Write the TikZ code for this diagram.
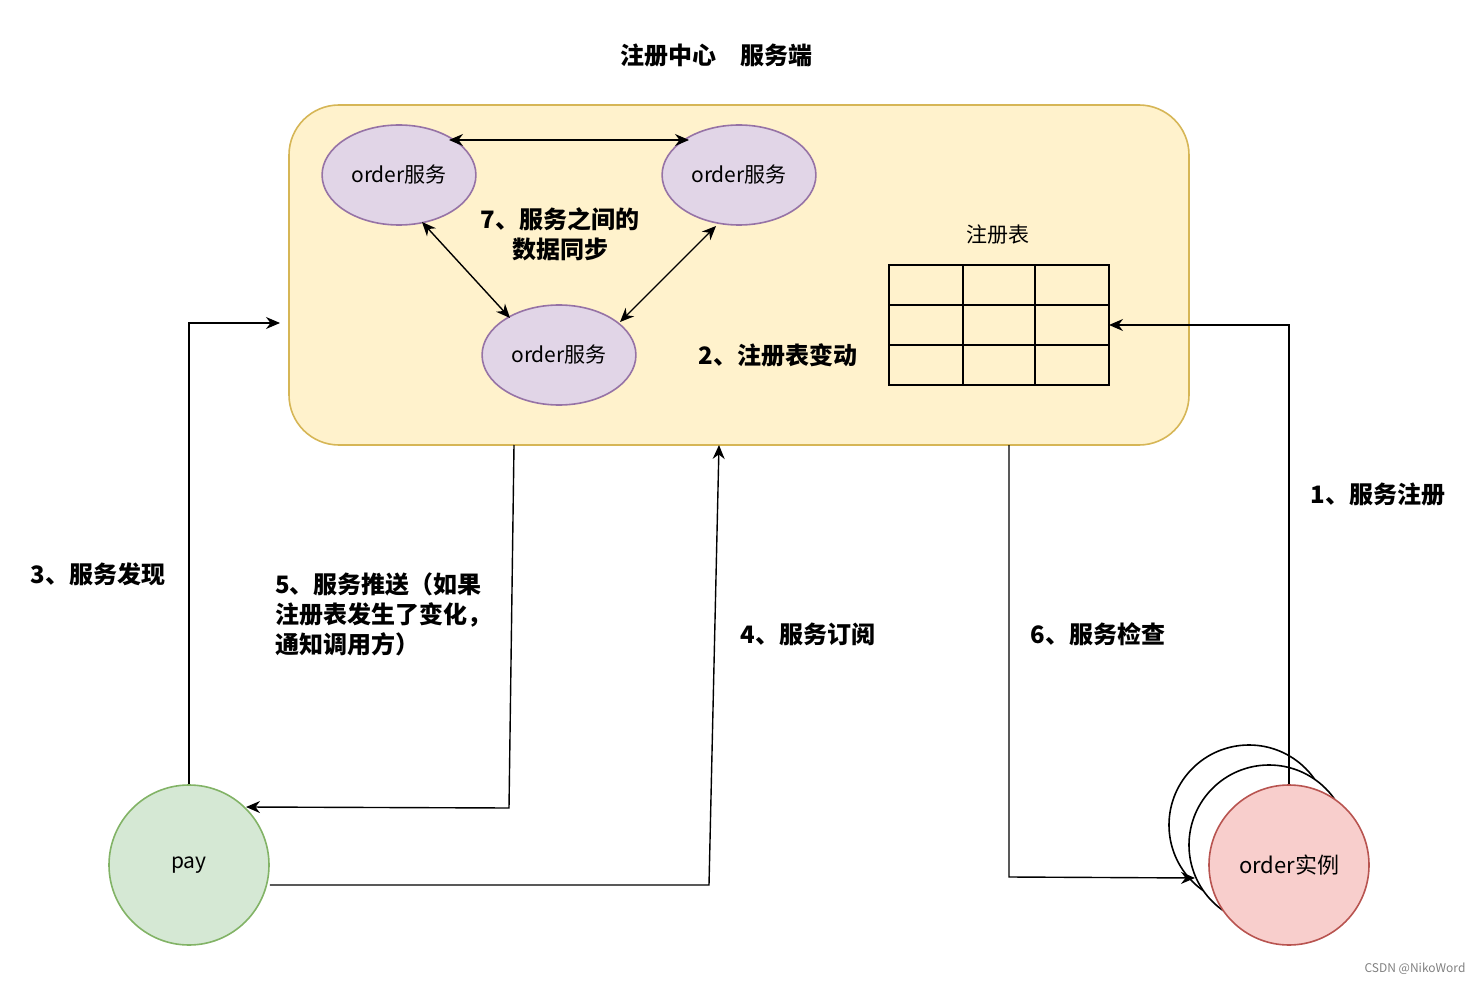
\documentclass[tikz,border=0pt]{standalone}
\usepackage{fontspec}
\setmainfont{Noto Sans CJK SC}
\usetikzlibrary{shapes.geometric,arrows.meta}
\definecolor{yf}{HTML}{FFF2CC}\definecolor{yd}{HTML}{D6B656}
\definecolor{pf}{HTML}{E1D5E7}\definecolor{pd}{HTML}{9673A6}
\definecolor{gf}{HTML}{D5E8D4}\definecolor{gd}{HTML}{82B366}
\definecolor{rf}{HTML}{F8CECC}\definecolor{rd}{HTML}{B85450}
\begin{document}
\begin{tikzpicture}[x=0.5pt,y=-0.5pt,
 lbl/.style={font=\bfseries\fontsize{12}{15}\selectfont},
 svc/.style={ellipse,fill=pf,draw=pd,line width=0.8pt,minimum width=70pt,minimum height=50pt,font=\fontsize{10.5}{12}\selectfont},
 arr/.style={-{Stealth[length=7pt,width=6pt]},line width=0.7pt},
 darr/.style={{Stealth[length=7pt,width=6pt]}-{Stealth[length=7pt,width=6pt]},line width=0.7pt}]
\useasboundingbox (0,0) rectangle (1484,984);
\node[lbl] (title) at (716,55) {注册中心\quad 服务端};
\draw[fill=yf,draw=yd,line width=0.8pt,rounded corners=25pt] (289,105) rectangle (1189,445);
\coordinate (boxl) at (280,323);
\node[svc] (s1) at (399,175) {order服务};
\node[svc] (s2) at (739,175) {order服务};
\node[svc] (s3) at (559,355) {order服务};
\draw[darr] (449,140) -- (689,140);
\draw[darr] (422,222) -- (510,318);
\draw[darr] (716,226) -- (620,322);
\node[lbl,align=center] (l7) at (560,234) {7、服务之间的\\数据同步};
\node[lbl] (l2) at (778,355) {2、注册表变动};
\node[font=\fontsize{10.5}{12}\selectfont] (tt) at (998,235) {注册表};
\draw[line width=0.8pt] (889,265) rectangle (1109,385);
\foreach \x in {963,1035} \draw[line width=0.8pt] (\x,265) -- (\x,385);
\foreach \y in {305,345} \draw[line width=0.8pt] (889,\y) -- (1109,\y);
\coordinate (tabr) at (1109,325);
\node[circle,fill=gf,draw=gd,line width=0.8pt,minimum size=80pt,font=\fontsize{10.5}{12}\selectfont] (pay) at (189,865) {pay};
\draw[line width=0.8pt,fill=white] (1249,825) circle (40pt);
\draw[line width=0.8pt,fill=white] (1269,845) circle (40pt);
\node[circle,fill=rf,draw=rd,line width=0.8pt,minimum size=80pt,font=\fontsize{11}{12}\selectfont] (ord) at (1289,865) {order实例};
\draw[arr] (pay.north) -- (189,323) -- (boxl);
\draw[arr] (514,445) -- (509,808) -- (246,807);
\draw[arr] (pay.east |- 0,885) -- (709,885) -- (719,445);
\draw[arr] (1009,445) -- (1009,877) -- (1195,878);
\draw[arr] (ord.north) -- (1289,325) -- (tabr);
\node[lbl] (l3) at (98,574) {3、服务发现};
\node[lbl,align=left,anchor=west] (l5) at (268,614) {5、服务推送（如果\\注册表发生了变化，\\通知调用方）};
\node[lbl] (l4) at (808,634) {4、服务订阅};
\node[lbl] (l6) at (1098,634) {6、服务检查};
\node[lbl] (l1) at (1378,494) {1、服务注册};
\node[text=gray,font=\fontsize{6}{7}\selectfont] (wm) at (1415,969) {CSDN @NikoWord};
\end{tikzpicture}
\end{document}
